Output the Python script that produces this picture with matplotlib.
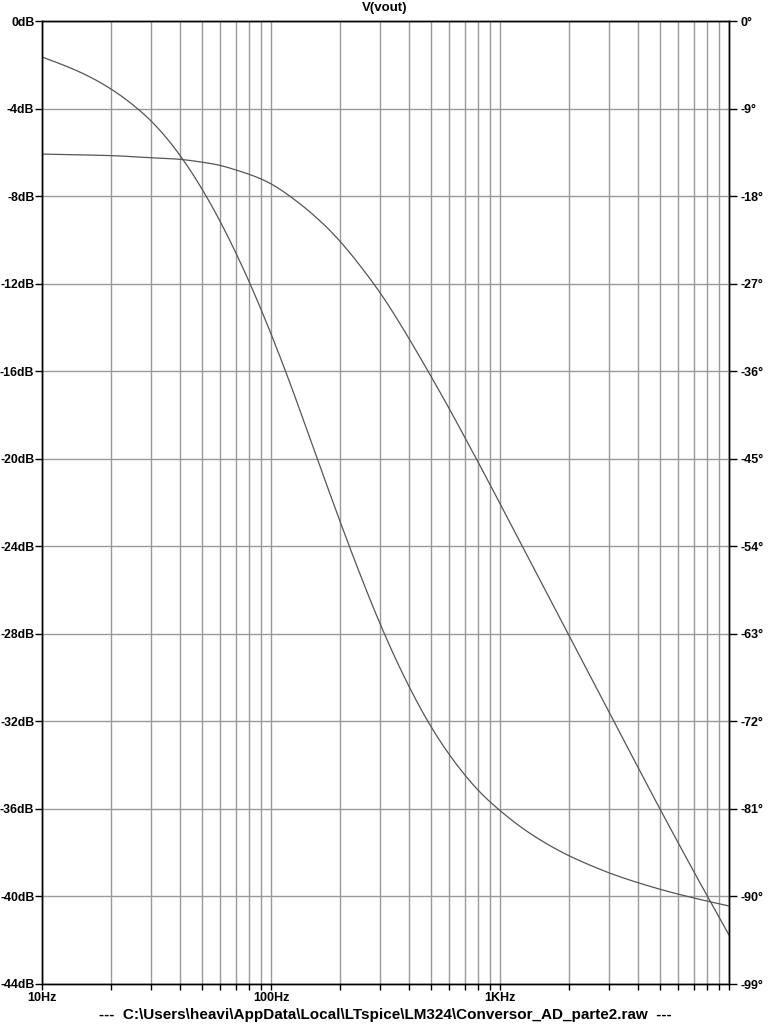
import numpy as np
import matplotlib
matplotlib.use('Agg')
from matplotlib import pyplot as plt
from matplotlib.ticker import FixedLocator, NullFormatter

plt.rcParams['font.family'] = ['Liberation Sans', 'DejaVu Sans']
plt.rcParams['font.weight'] = 'bold'

# frequency points (Hz)
freq = [10, 15, 20, 25, 30, 40, 50, 60, 70, 80, 100, 120, 150, 200, 250, 300,
        400, 500, 600, 700, 800, 1000, 1250, 1500, 2000, 2500, 3000, 4000,
        5000, 6000, 7000, 8000, 10000]

# magnitude in dB
mag_db = [-6.08, -6.12, -6.15, -6.2, -6.25, -6.32, -6.45, -6.6, -6.8, -7.0,
          -7.44, -7.98, -8.78, -10.06, -11.3, -12.43, -14.5, -16.24, -17.71,
          -19.0, -20.13, -22.05, -23.99, -25.57, -28.07, -30.01, -31.59,
          -34.09, -36.01, -37.55, -38.84, -39.94, -41.76]

# phase in degrees
phase_deg = [-3.7, -5.37, -6.99, -8.64, -10.3, -13.8, -17.29, -20.62, -23.77,
             -26.73, -32.16, -36.99, -43.29, -51.41, -57.42, -62.01, -68.38,
             -72.55, -75.4, -77.47, -79.04, -81.17, -82.96, -84.19, -85.81,
             -86.83, -87.58, -88.58, -89.26, -89.76, -90.15, -90.47, -90.98]

db_ticks = list(range(0, -45, -4))
deg_ticks = list(range(0, -100, -9))
x_major = [10, 100, 1000]
x_labels = ['10Hz', '100Hz', '1KHz']
x_grid = [m * d for d in (10, 100, 1000) for m in range(1, 10)] + [10000]

grid_col = '#999999'
curve_col = '#555555'


def spline(x, y, xn):
    # natural cubic spline through the read-off points
    x = np.asarray(x, float)
    y = np.asarray(y, float)
    n = len(x)
    h = np.diff(x)
    A = np.zeros((n, n))
    b = np.zeros(n)
    A[0, 0] = A[-1, -1] = 1
    for i in range(1, n - 1):
        A[i, i - 1] = h[i - 1]
        A[i, i] = 2 * (h[i - 1] + h[i])
        A[i, i + 1] = h[i]
        b[i] = 3 * ((y[i + 1] - y[i]) / h[i] - (y[i] - y[i - 1]) / h[i - 1])
    c = np.linalg.solve(A, b)
    idx = np.clip(np.searchsorted(x, xn) - 1, 0, n - 2)
    dx = xn - x[idx]
    bb = (y[idx + 1] - y[idx]) / h[idx] - h[idx] * (2 * c[idx] + c[idx + 1]) / 3
    dd = (c[idx + 1] - c[idx]) / (3 * h[idx])
    return y[idx] + bb * dx + c[idx] * dx ** 2 + dd * dx ** 3


lf = np.log10(freq)
lf_fine = np.linspace(lf[0], lf[-1], 600)
f_fine = 10 ** lf_fine
mag_s = spline(lf, mag_db, lf_fine)
ph_s = spline(lf, phase_deg, lf_fine)

fig = plt.figure(figsize=(7.68, 10.24), dpi=100)
ax = fig.add_axes([42/768, 40/1024, 687/768, 963/1024])
ax2 = ax.twinx()

ax.set_xscale('log')
ax.set_xlim(10, 10000)
ax.set_ylim(-44, 0)
ax2.set_ylim(-99, 0)

for xv in x_grid:
    ax.axvline(xv, color=grid_col, lw=1, zorder=0)
for yv in db_ticks:
    ax.axhline(yv, color=grid_col, lw=1, zorder=0)

ax.plot(f_fine, mag_s, color=curve_col, lw=0.9)
ax2.plot(f_fine, ph_s, color=curve_col, lw=0.9)

ax.xaxis.set_major_locator(FixedLocator(x_major))
ax.set_xticklabels(x_labels)
ax.xaxis.set_minor_locator(FixedLocator(x_grid))
ax.xaxis.set_minor_formatter(NullFormatter())
ax.set_yticks(db_ticks)
ax.set_yticklabels([f'{v}dB' for v in db_ticks])
ax2.set_yticks(deg_ticks)
ax2.set_yticklabels([f'{v}°' for v in deg_ticks])

ax.tick_params(axis='x', which='both', direction='out', length=4, width=1,
               labelsize=9, pad=2)
ax.tick_params(axis='y', direction='out', length=5, width=1, labelsize=8.8, pad=0.5)
ax2.tick_params(axis='y', direction='out', length=6, width=1, labelsize=9, pad=2)
for a in (ax, ax2):
    for s in a.spines.values():
        s.set_color('black')
        s.set_linewidth(1)
    for lab in a.get_xticklabels() + a.get_yticklabels():
        lab.set_fontweight('bold')

fig.text(385/768, 1 - 8/1024, 'V(vout)', ha='center', va='center',
         fontsize=9.5, fontweight='bold')
fig.text(385/768, 1 - 1015/1024,
         '---  C:\\Users\\heavi\\AppData\\Local\\LTspice\\LM324\\Conversor_AD_parte2.raw  ---',
         ha='center', va='center', fontsize=11, fontweight='bold')

fig.savefig('out.png', dpi=100)
